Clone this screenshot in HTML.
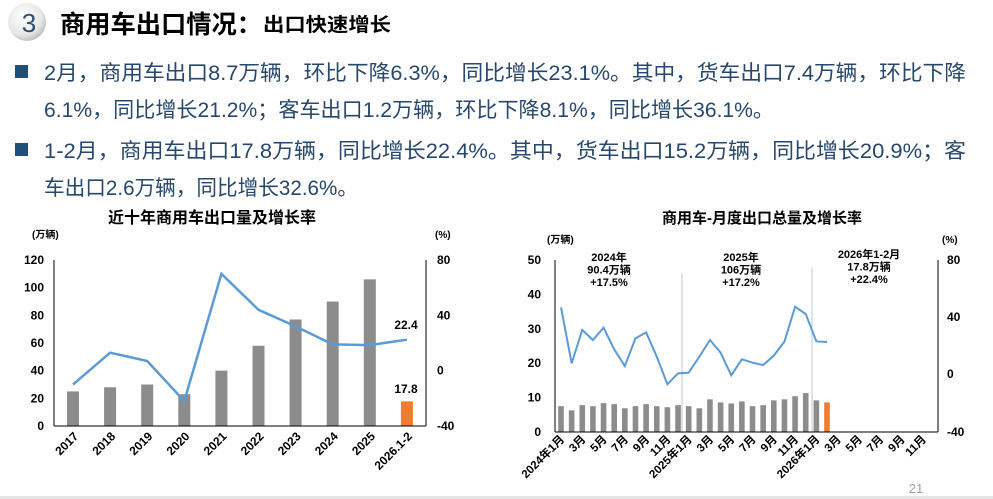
<!DOCTYPE html>
<html><head><meta charset="utf-8"><style>
html,body{margin:0;padding:0;background:#fff;}
svg{display:block;font-family:"Liberation Sans","Noto Sans CJK SC",sans-serif;}
</style></head><body>
<svg id="s" width="993" height="499" viewBox="0 0 993 499" xmlns="http://www.w3.org/2000/svg">
<defs><radialGradient id="g" cx="40%" cy="35%" r="70%"><stop offset="0" stop-color="#ffffff"/><stop offset="0.7" stop-color="#e6e6e6"/><stop offset="1" stop-color="#b8b8b8"/></radialGradient></defs>
<rect x="0" y="0" width="993" height="499" fill="#fff"/>
<rect x="0" y="496" width="993" height="3" fill="#e4e4e4"/>
<circle cx="27" cy="22" r="19" fill="url(#g)"/>
<text x="29" y="32" font-size="26" fill="#2f4e6e" text-anchor="middle">3</text>
<text x="60" y="33" font-size="25" font-weight="bold" fill="#000" textLength="202" lengthAdjust="spacingAndGlyphs">商用车出口情况：</text>
<text x="263" y="31" font-size="19" font-weight="bold" fill="#000" textLength="128" lengthAdjust="spacingAndGlyphs">出口快速增长</text>
<g fill="#1f4e79"><rect x="15" y="65" width="13" height="13"/><rect x="15" y="143" width="13" height="13"/></g>
<g font-size="21" fill="#27476d">
<text x="44" y="80" textLength="922" lengthAdjust="spacingAndGlyphs">2月，商用车出口8.7万辆，环比下降6.3%，同比增长23.1%。其中，货车出口7.4万辆，环比下降</text>
<text x="44" y="117" textLength="730" lengthAdjust="spacingAndGlyphs">6.1%，同比增长21.2%；客车出口1.2万辆，环比下降8.1%，同比增长36.1%。</text>
<text x="44" y="158" textLength="922" lengthAdjust="spacingAndGlyphs">1-2月，商用车出口17.8万辆，同比增长22.4%。其中，货车出口15.2万辆，同比增长20.9%；客</text>
<text x="44" y="195" textLength="314" lengthAdjust="spacingAndGlyphs">车出口2.6万辆，同比增长32.6%。</text>
</g>
<g id="c1"></g><g id="c2"></g>
</svg>
<script>
var NS="http://www.w3.org/2000/svg";
function el(p,t,a,txt){var e=document.createElementNS(NS,t);for(var k in a)e.setAttribute(k,a[k]);if(txt!=null)e.textContent=txt;p.appendChild(e);return e;}
var c1=document.getElementById('c1');
el(c1,'text',{x:212,y:223,'font-size':16,'font-weight':'bold','text-anchor':'middle',fill:'#000'},'近十年商用车出口量及增长率');
el(c1,'text',{x:32,y:238,'font-size':10,'font-weight':'bold',fill:'#000'},'(万辆)');
el(c1,'text',{x:435,y:238,'font-size':10,'font-weight':'bold',fill:'#000'},'(%)');
var y0=426,y1=260;
function yl(v){return y0-(v/120)*(y0-y1);}
function yr(v){return y0-((v+40)/120)*(y0-y1);}
[0,20,40,60,80,100,120].forEach(function(v){el(c1,'text',{x:44,y:yl(v)+4,'font-size':12,'font-weight':'bold','text-anchor':'end',fill:'#000'},v);});
[-40,0,40,80].forEach(function(v){el(c1,'text',{x:437,y:yr(v)+4,'font-size':12,'font-weight':'bold',fill:'#000'},v);});
var bars=[25,28,30,23,40,58,77,90,106,17.8],labs=['2017','2018','2019','2020','2021','2022','2023','2024','2025','2026.1-2'];
var lr=[-10,13,7,-22,70,44,32,19,18.5,22.4];
var pts=[];
bars.forEach(function(v,i){var cx=73+i*37.1;el(c1,'rect',{x:cx-6,y:yl(v),width:12,height:y0-yl(v),fill:i==9?'#ed7d31':'#8c8c8c'});
pts.push(cx+','+yr(lr[i]));
el(c1,'text',{x:cx+6,y:y0+11,'font-size':12,'font-weight':'bold','text-anchor':'end',fill:'#000',transform:'rotate(-45 '+(cx+6)+' '+(y0+11)+')'},labs[i]);});
el(c1,'polyline',{points:pts.join(' '),fill:'none',stroke:'#5b9bd5','stroke-width':2.5});
el(c1,'line',{x1:54,y1:260,x2:54,y2:426,stroke:'#000','stroke-width':1});
el(c1,'line',{x1:426,y1:260,x2:426,y2:426,stroke:'#000','stroke-width':1});
el(c1,'line',{x1:54,y1:426,x2:426,y2:426,stroke:'#000','stroke-width':1});
el(c1,'text',{x:406,y:329,'font-size':12,'font-weight':'bold','text-anchor':'middle',fill:'#000'},'22.4');
el(c1,'text',{x:406,y:393,'font-size':12,'font-weight':'bold','text-anchor':'middle',fill:'#000'},'17.8');

var c2=document.getElementById('c2');
el(c2,'text',{x:762,y:223,'font-size':15,'font-weight':'bold','text-anchor':'middle',fill:'#000'},'商用车-月度出口总量及增长率');
el(c2,'text',{x:547,y:243,'font-size':10,'font-weight':'bold',fill:'#000'},'(万辆)');
el(c2,'text',{x:942,y:243,'font-size':10,'font-weight':'bold',fill:'#000'},'(%)');
var b0=432,b1=260;
function y2l(v){return b0-(v/50)*(b0-b1);}
[0,10,20,30,40,50].forEach(function(v){el(c2,'text',{x:541,y:y2l(v)+4,'font-size':12,'font-weight':'bold','text-anchor':'end',fill:'#000'},v);});
[[80,264],[40,321],[0,378],[-40,436]].forEach(function(a){el(c2,'text',{x:947,y:a[1],'font-size':12,'font-weight':'bold',fill:'#000'},a[0]);});
var mb=[7.5,6.3,7.8,7.5,8.4,8.1,6.9,7.5,8.1,7.5,7.2,7.8,7.5,6.9,9.5,8.6,8.3,8.9,7.5,7.8,9.2,9.5,10.4,11.3,9.2,8.6];
var ly=[322,490,390,420,383,448,498,415,397,470,553,520,518,470,420,458,526,478,488,495,467,425,320,342,424,426];
var p2=[];
mb.forEach(function(v,i){var cx=561+i*10.64;el(c2,'rect',{x:cx-2.8,y:y2l(v),width:5.6,height:b0-y2l(v),fill:i==25?'#ed7d31':'#8c8c8c'});p2.push(cx+','+(200+ly[i]/3));});
el(c2,'line',{x1:682,y1:273,x2:682,y2:432,stroke:'#b8c8d8','stroke-width':1});
el(c2,'line',{x1:812,y1:268,x2:812,y2:432,stroke:'#b8c8d8','stroke-width':1});
el(c2,'polyline',{points:p2.join(' '),fill:'none',stroke:'#5b9bd5','stroke-width':2});
el(c2,'line',{x1:555,y1:260,x2:555,y2:432,stroke:'#000'});
el(c2,'line',{x1:938,y1:260,x2:938,y2:432,stroke:'#000'});
el(c2,'line',{x1:555,y1:432,x2:938,y2:432,stroke:'#000'});
var ml=['2024年1月','3月','5月','7月','9月','11月','2025年1月','3月','5月','7月','9月','11月','2026年1月','3月','5月','7月','9月','11月'];
ml.forEach(function(t,k){var cx=561+k*2*10.64+4,yy=440;el(c2,'text',{x:cx,y:yy,'font-size':11.5,'font-weight':'bold','text-anchor':'end',fill:'#000',transform:'rotate(-45 '+cx+' '+yy+')'},t);});
function ann(x,lines,y){lines.forEach(function(t,i){el(c2,'text',{x:x,y:y+i*12.5,'font-size':11,'font-weight':'bold','text-anchor':'middle',fill:'#000'},t);});}
ann(609,['2024年','90.4万辆','+17.5%'],261);
ann(741,['2025年','106万辆','+17.2%'],261);
ann(869,['2026年1-2月','17.8万辆','+22.4%'],258);
el(c2,'text',{x:916,y:493,'font-size':13,'text-anchor':'middle',fill:'#a0a0a0'},'21');
</script>
</body></html>
